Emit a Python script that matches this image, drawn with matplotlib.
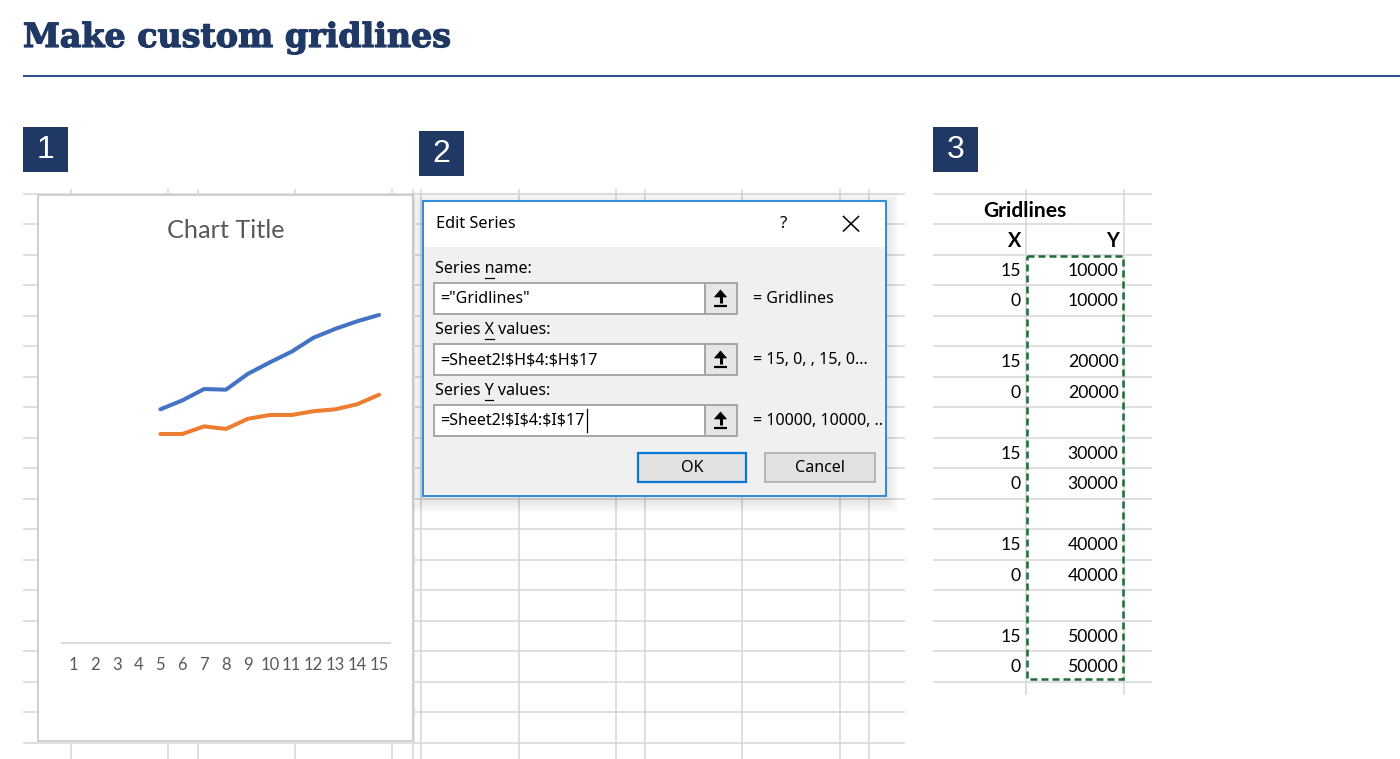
import matplotlib
matplotlib.use("Agg")
import matplotlib.pyplot as plt
from matplotlib.patches import Rectangle, Polygon
import matplotlib.patheffects as pe

# ---------------- data ----------------
page_title = "Make custom gridlines"
badges = ["1", "2", "3"]

chart_title = "Chart Title"
categories = list(range(1, 16))
series1_x = list(range(5, 16))
series1_y = [36900, 38300, 40100, 40000, 42500, 44300, 46000, 48200, 49600, 50800, 51800]
series2_x = list(range(5, 16))
series2_y = [33000, 33000, 34200, 33800, 35400, 36000, 36000, 36600, 36900, 37700, 39200]

dialog_title = "Edit Series"
field_labels = ["Series name:", "Series X values:", "Series Y values:"]
field_accel_index = [7, 7, 7]
field_refs = ['="Gridlines"', "=Sheet2!$H$4:$H$17", "=Sheet2!$I$4:$I$17"]
field_values = ["= Gridlines", "= 15, 0, , 15, 0...", "= 10000, 10000, .."]
buttons = ["OK", "Cancel"]

table_title = "Gridlines"
table_cols = ["X", "Y"]
grid_x = [15, 0, None, 15, 0, None, 15, 0, None, 15, 0, None, 15, 0]
grid_y = [10000, 10000, None, 20000, 20000, None, 30000, 30000, None,
          40000, 40000, None, 50000, 50000]

# ---------------- figure ----------------
W, H = 1400, 759
fig = plt.figure(figsize=(W / 100, H / 100), dpi=100)
fig.patch.set_facecolor("white")
ax = fig.add_axes([0, 0, 1, 1])
ax.set_xlim(0, W)
ax.set_ylim(H, 0)
ax.axis("off")
R = fig.canvas.get_renderer()

NAVY = "#203864"
GRID = "#d6d6d6"
EXCEL_FONT = ["Lato", "DejaVu Sans"]
UI_FONT = ["Noto Sans", "DejaVu Sans"]


def width_of(t):
    return t.get_window_extent(R).width


def fit(x, y, s, target_w, **kw):
    t = ax.text(x, y, s, fontsize=10, parse_math=False, **kw)
    w = width_of(t)
    t.set_fontsize(10 * target_w / w)
    return t


def hline(x0, x1, y, color=GRID, lw=1.1, z=1):
    ax.plot([x0, x1], [y, y], color=color, lw=lw, zorder=z, solid_capstyle="butt")


def vline(x, y0, y1, color=GRID, lw=1.1, z=1):
    ax.plot([x, x], [y0, y1], color=color, lw=lw, zorder=z, solid_capstyle="butt")


# ---- header ----
tt = fit(23, 47, page_title, 429, family=["DejaVu Serif"], weight="bold",
         color=NAVY, va="baseline", ha="left")
tt.set_path_effects([pe.withStroke(linewidth=0.9, foreground=NAVY)])
hline(23, 1400, 76, color="#2f4f8a", lw=1.5, z=2)

badge_pos = [(23, 127), (419, 131), (933, 127)]
for (bx, by), b in zip(badge_pos, badges):
    ax.add_patch(Rectangle((bx, by), 45, 45, facecolor=NAVY, edgecolor="none", zorder=2))
    ax.text(bx + 22.5, by + 23.5, b, color="white", fontsize=23,
            family=["Liberation Sans"], ha="center", va="center", zorder=3)

# ---- spreadsheet grid, panel 1 ----
row_y0, row_h = 193.5, 30.5
rows = [row_y0 + k * row_h for k in range(19)]
for y in rows:
    hline(23, 415, y)
for x in [71, 168, 198, 295, 392]:
    vline(x, 189, 759)

# ---- chart box ----
ax.add_patch(Rectangle((40, 197), 375, 546, facecolor="#e6e6e6", edgecolor="none", zorder=2))
ax.add_patch(Rectangle((38, 195), 375, 546, facecolor="white", edgecolor="#cfcfcf",
                       lw=1.4, zorder=3))
fit(226, 230, chart_title, 118, family=EXCEL_FONT, color="#595959",
    ha="center", va="center", zorder=4)

cax = fig.add_axes([62 / W, 1 - 643 / H, 328 / W, (643 - 263) / H])
cax.set_facecolor("none")
cax.set_zorder(5)
cax.plot(series1_x, series1_y, color="#4472c4", lw=2.9, solid_capstyle="round",
         solid_joinstyle="round")
cax.plot(series2_x, series2_y, color="#ed7d31", lw=2.9, solid_capstyle="round",
         solid_joinstyle="round")
cax.set_xlim(0.5, 15.5)
cax.set_ylim(0, 60000)
cax.set_xticks(categories)
cax.set_xticklabels([str(c) for c in categories], family=EXCEL_FONT)
cax.set_yticks([])
cax.tick_params(axis="x", length=0, pad=10, labelsize=12, labelcolor="#595959")
for s in ["top", "left", "right"]:
    cax.spines[s].set_visible(False)
cax.spines["bottom"].set_color("#d9d9d9")
cax.spines["bottom"].set_linewidth(1.3)

# ---- spreadsheet grid, panel 2 ----
for y in rows:
    hline(413, 905, y)
for x in [413, 421, 518.5, 616, 645, 742, 839.5, 868.5]:
    vline(x, 189, 759)

# dialog shadow
dx0, dy0, dw, dh = 423, 201, 463, 295
for i in range(1, 14):
    ax.add_patch(Rectangle((dx0 - i, dy0 - i + 4), dw + 2 * i, dh + 2 * i,
                           facecolor="black", edgecolor="none", alpha=0.009, zorder=6))
ax.add_patch(Rectangle((dx0, dy0), dw, dh, facecolor="#f0f0f0", edgecolor="none", zorder=7))
ax.add_patch(Rectangle((dx0, dy0), dw, 46, facecolor="white", edgecolor="none", zorder=7))
ax.add_patch(Rectangle((dx0, dy0), dw, dh, facecolor="none", edgecolor="#1c84d8",
                       lw=1.3, zorder=9))

lab = fit(435, 269, field_labels[0], 97, family=UI_FONT, color="black",
          ha="left", va="center", zorder=10)
FS = lab.get_fontsize()
lab.remove()

ax.text(436, 224, dialog_title, fontsize=FS * 1.02, family=UI_FONT, color="black",
        ha="left", va="center", zorder=10)
ax.text(783, 224, "?", fontsize=FS * 1.05, family=UI_FONT, color="black",
        ha="center", va="center", zorder=10)
ax.plot([843.5, 858.5], [216.5, 231], color="black", lw=1.1, zorder=10)
ax.plot([843.5, 858.5], [231, 216.5], color="black", lw=1.1, zorder=10)

label_y = [269, 330, 391]
box_tops = [283, 344, 405]
for lbl, acc, ref, val, ly, bt in zip(field_labels, field_accel_index, field_refs,
                                      field_values, label_y, box_tops):
    ax.text(435, ly, lbl, fontsize=FS, family=UI_FONT, color="black",
            ha="left", va="center", zorder=10)
    tp = ax.text(435, ly, lbl[:acc + 1], fontsize=FS, family=UI_FONT, alpha=0)
    tc = ax.text(435, ly, lbl[acc], fontsize=FS, family=UI_FONT, alpha=0)
    wp, wc = width_of(tp), width_of(tc)
    tp.remove()
    tc.remove()
    ax.plot([435 + wp - wc + 0.5, 435 + wp - 0.5], [ly + 8.5, ly + 8.5], color="black",
            lw=0.9, zorder=10)
    # textbox
    ax.add_patch(Rectangle((433.5, bt), 271, 31, facecolor="white", edgecolor="#a6a6a6",
                           lw=1.4, zorder=10))
    ax.add_patch(Rectangle((704.5, bt), 32, 31, facecolor="#e6e6e6", edgecolor="#a6a6a6",
                           lw=1.4, zorder=10))
    cx, cy = 720.5, bt + 15
    ax.add_patch(Polygon([(cx - 6, cy - 1), (cx + 6, cy - 1), (cx, cy - 8)],
                         closed=True, facecolor="black", edgecolor="black", lw=0.5, zorder=11))
    ax.plot([cx, cx], [cy - 2, cy + 5], color="black", lw=2.2, zorder=11,
            solid_capstyle="butt")
    ax.plot([cx - 6.5, cx + 6.5], [cy + 7.5, cy + 7.5], color="black", lw=1.6, zorder=11,
            solid_capstyle="butt")
    ax.text(440, bt + 16, ref, fontsize=FS, family=UI_FONT, color="black",
            ha="left", va="center", zorder=11, parse_math=False)
    ax.text(753, bt + 16, val, fontsize=FS, family=UI_FONT, color="black",
            ha="left", va="center", zorder=11, parse_math=False)

# text cursor after the last reference
ax.plot([587, 587], [409, 432], color="black", lw=0.9, zorder=12)

# buttons
ax.add_patch(Rectangle((637.5, 452.5), 108, 29, facecolor="#e1e1e1", edgecolor="#0a78d7",
                       lw=1.6, zorder=10))
ax.add_patch(Rectangle((764.5, 452.5), 110, 29, facecolor="#e1e1e1", edgecolor="#adadad",
                       lw=1.2, zorder=10))
ax.text(692, 468, buttons[0], fontsize=FS, family=UI_FONT, color="black",
        ha="center", va="center", zorder=11)
ax.text(819.5, 468, buttons[1], fontsize=FS, family=UI_FONT, color="black",
        ha="center", va="center", zorder=11)

# ---- panel 3: table ----
for k in range(17):
    hline(933, 1152, row_y0 + k * row_h)
for x in [1025.7, 1123.7]:
    vline(x, 189, 695)

tv = fit(1118, 270, "10000", 51, family=EXCEL_FONT, ha="right", va="center")
TFS = tv.get_fontsize()
tv.remove()
th = fit(1024.5, row_y0 + row_h / 2 + 2, table_title, 84, family=EXCEL_FONT,
         weight="bold", ha="center", va="center", zorder=4)

ax.text(1021, row_y0 + 1.5 * row_h + 1.5, table_cols[0], fontsize=TFS * 1.12,
        family=EXCEL_FONT, weight="bold", ha="right", va="center", zorder=4)
ax.text(1118.5, row_y0 + 1.5 * row_h + 1.5, table_cols[1], fontsize=TFS * 1.12,
        family=EXCEL_FONT, weight="bold", ha="right", va="center", zorder=4)
for i, (xv, yv) in enumerate(zip(grid_x, grid_y)):
    yc = row_y0 + (2 + i) * row_h + row_h / 2 + 1
    if xv is not None:
        ax.text(1021, yc, str(xv), fontsize=TFS, family=EXCEL_FONT, ha="right",
                va="center", zorder=4)
    if yv is not None:
        ax.text(1118.5, yc, str(yv), fontsize=TFS, family=EXCEL_FONT, ha="right",
                va="center", zorder=4)

ax.add_patch(Rectangle((1027, 255.5), 96, 423.5, facecolor="none", edgecolor="#1d6b35",
                       lw=1.8, linestyle=(0, (2.8, 1.6)), zorder=5))

fig.savefig("out.png", dpi=100, facecolor="white")
